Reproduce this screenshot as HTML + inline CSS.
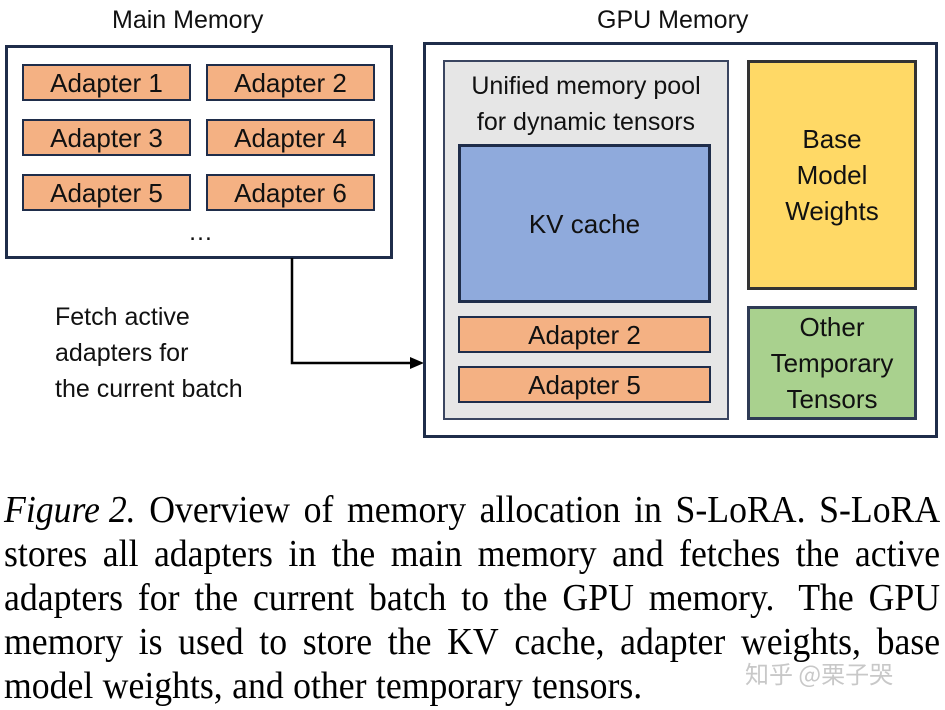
<!DOCTYPE html>
<html><head><meta charset="utf-8"><style>
body{margin:0;width:945px;height:710px;background:#fff;position:relative;overflow:hidden;font-family:"Liberation Sans","DejaVu Sans",sans-serif;color:#111}
.b{position:absolute;box-sizing:border-box;border:3px solid #1f2d4a;display:flex;align-items:center;justify-content:center;text-align:center;font-size:26px;line-height:36px}
.ad{background:#f4b183;border-width:2.5px}
.t{position:absolute;font-size:25px;line-height:36px}
.cap{position:absolute;left:4px;top:488px;width:996px;transform:scaleX(0.94);transform-origin:0 0;font-family:"Liberation Serif",serif;font-size:38px;line-height:44px;color:#000}
.cap div{white-space:nowrap;display:flex;justify-content:space-between}
.cap .l{justify-content:flex-start;gap:10px}
</style></head><body>
<div class="t" style="left:112px;top:2px">Main Memory</div>
<div class="t" style="left:597px;top:2px">GPU Memory</div>
<div class="b" style="left:5px;top:45px;width:388px;height:214px"></div>
<div class="b ad" style="left:22px;top:64px;width:169px;height:37px">Adapter 1</div>
<div class="b ad" style="left:206px;top:64px;width:169px;height:37px">Adapter 2</div>
<div class="b ad" style="left:22px;top:119px;width:169px;height:37px">Adapter 3</div>
<div class="b ad" style="left:206px;top:119px;width:169px;height:37px">Adapter 4</div>
<div class="b ad" style="left:22px;top:174px;width:169px;height:37px">Adapter 5</div>
<div class="b ad" style="left:206px;top:174px;width:169px;height:37px">Adapter 6</div>
<div class="t" style="left:188px;top:214px">…</div>
<div class="t" style="left:55px;top:299px;line-height:36px">Fetch active<br>adapters for<br>the current batch</div>
<svg style="position:absolute;left:0;top:0" width="945" height="460"><path d="M292 258 V363 H412" fill="none" stroke="#000" stroke-width="2.5"/><polygon points="424,363 410,357 410,369" fill="#000"/></svg>
<div class="b" style="left:423px;top:42px;width:515px;height:396px"></div>
<div class="b" style="left:443px;top:60px;width:286px;height:360px;background:#e6e6e6;border-color:#3a4560;border-width:2.5px;align-items:flex-start;padding-top:6px;font-size:25px">Unified memory pool<br>for dynamic tensors</div>
<div class="b" style="left:458px;top:144px;width:253px;height:159px;background:#8faadc">KV cache</div>
<div class="b ad" style="left:458px;top:316px;width:253px;height:37px">Adapter 2</div>
<div class="b ad" style="left:458px;top:366px;width:253px;height:37px">Adapter 5</div>
<div class="b" style="left:747px;top:60px;width:170px;height:230px;background:#ffd966;border-color:#333">Base<br>Model<br>Weights</div>
<div class="b" style="left:747px;top:306px;width:170px;height:114px;background:#a9d18e;border-color:#2e3b55">Other<br>Temporary<br>Tensors</div>
<div class="cap">
<div><span><i>Figure 2.</i></span><span>Overview</span><span>of</span><span>memory</span><span>allocation</span><span>in</span><span>S-LoRA.</span><span>S-LoRA</span></div>
<div><span>stores</span><span>all</span><span>adapters</span><span>in</span><span>the</span><span>main</span><span>memory</span><span>and</span><span>fetches</span><span>the</span><span>active</span></div>
<div><span>adapters</span><span>for</span><span>the</span><span>current</span><span>batch</span><span>to</span><span>the</span><span>GPU</span><span>memory.</span><span>&nbsp;The</span><span>GPU</span></div>
<div><span>memory</span><span>is</span><span>used</span><span>to</span><span>store</span><span>the</span><span>KV</span><span>cache,</span><span>adapter</span><span>weights,</span><span>base</span></div>
<div class="l"><span>model</span><span>weights,</span><span>and</span><span>other</span><span>temporary</span><span>tensors.</span></div>
</div>
<div style="position:absolute;left:745px;top:655px;font-family:'Noto Sans CJK SC',sans-serif;font-size:24px;color:#c8c8c8">知乎 @栗子哭</div>
</body></html>
